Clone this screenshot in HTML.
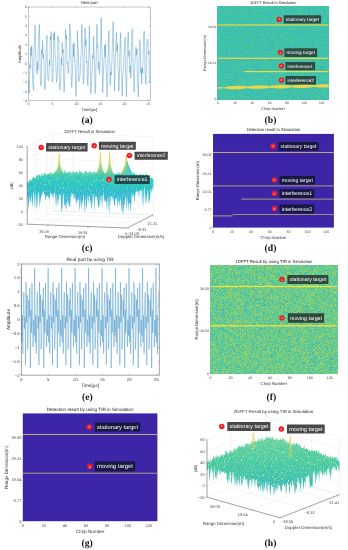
<!DOCTYPE html>
<html><head><meta charset="utf-8"><title>Figure</title>
<style>
html,body{margin:0;padding:0;background:#fff;}
svg{display:block}
text{text-rendering:geometricPrecision}
.s{font-family:'Liberation Sans', sans-serif;}
.b{font-family:'Liberation Serif', serif;font-weight:bold;}
</style></head><body>
<svg width="348" height="550" viewBox="0 0 348 550">
<defs>
<filter id="nb" x="0" y="0" width="1" height="1" color-interpolation-filters="sRGB">
<feTurbulence type="fractalNoise" baseFrequency="1.73 1.61" numOctaves="1" seed="3"/>
<feColorMatrix type="matrix" values="1.1 0 0 0 -0.05  1.1 0 0 0 -0.05  1.1 0 0 0 -0.05  0 0 0 0 1"/>
<feComponentTransfer><feFuncR type="table" tableValues="0.22 0.20 0.25 0.33 0.42"/><feFuncG type="table" tableValues="0.58 0.70 0.77 0.80 0.80"/><feFuncB type="table" tableValues="0.92 0.80 0.66 0.56 0.46"/></feComponentTransfer>
<feGaussianBlur stdDeviation="0.35"/>
</filter>
<filter id="nf" x="0" y="0" width="1" height="1" color-interpolation-filters="sRGB">
<feTurbulence type="fractalNoise" baseFrequency="1.73 1.61" numOctaves="1" seed="8"/>
<feColorMatrix type="matrix" values="1.25 0 0 0 -0.125  1.25 0 0 0 -0.125  1.25 0 0 0 -0.125  0 0 0 0 1"/>
<feComponentTransfer><feFuncR type="table" tableValues="0.22 0.20 0.40 0.70 0.88"/><feFuncG type="table" tableValues="0.55 0.72 0.81 0.82 0.80"/><feFuncB type="table" tableValues="0.92 0.76 0.54 0.36 0.28"/></feComponentTransfer>
<feGaussianBlur stdDeviation="0.4"/>
</filter>
<filter id="ns" x="0" y="0" width="1" height="1" color-interpolation-filters="sRGB">
<feTurbulence type="fractalNoise" baseFrequency="0.85 0.3" numOctaves="2" seed="5"/>
<feColorMatrix type="matrix" values="1.8 0 0 0 -0.4  1.8 0 0 0 -0.4  1.8 0 0 0 -0.4  0 2.0 0 0 -0.75"/>
<feComponentTransfer><feFuncR type="table" tableValues="0.20 0.12 0.25 0.50 0.75"/><feFuncG type="table" tableValues="0.64 0.74 0.84 0.90 0.95"/><feFuncB type="table" tableValues="0.92 0.86 0.78 0.70 0.70"/></feComponentTransfer>
<feGaussianBlur stdDeviation="0.3"/>
</filter>
<filter id="nh" x="0" y="0" width="1" height="1" color-interpolation-filters="sRGB">
<feTurbulence type="fractalNoise" baseFrequency="0.85 0.5" numOctaves="2" seed="9"/>
<feColorMatrix type="matrix" values="1.8 0 0 0 -0.4  1.8 0 0 0 -0.4  1.8 0 0 0 -0.4  0 2.4 0 0 -0.9"/>
<feComponentTransfer><feFuncR type="table" tableValues="0.20 0.18 0.35 0.68 0.90"/><feFuncG type="table" tableValues="0.66 0.76 0.84 0.90 0.96"/><feFuncB type="table" tableValues="0.88 0.80 0.66 0.52 0.70"/></feComponentTransfer>
<feGaussianBlur stdDeviation="0.3"/>
</filter>
<filter id="soft2" x="-0.5" y="-0.1" width="2" height="1.2"><feGaussianBlur stdDeviation="0.25"/></filter>
<filter id="soft" x="-0.05" y="-0.5" width="1.1" height="2"><feGaussianBlur stdDeviation="0.3"/></filter>
<linearGradient id="pk2" x1="0" y1="0" x2="0" y2="1"><stop offset="0" stop-color="#f2c844"/><stop offset="0.7" stop-color="#e6d250"/><stop offset="1" stop-color="#b8d870"/></linearGradient>
<linearGradient id="pk" x1="0" y1="0" x2="0" y2="1"><stop offset="0" stop-color="#f2d048"/><stop offset="0.3" stop-color="#dcdc58"/><stop offset="0.6" stop-color="#a6d878"/><stop offset="0.85" stop-color="#6ccf9c"/><stop offset="1" stop-color="#44c4b2"/></linearGradient>
</defs>
<rect width="348" height="550" fill="#fff"/>
<polyline fill="none" stroke="#3088c2" stroke-width="0.4" stroke-linejoin="round" points="28.4,79.64 28.88,90.01 29.35,93.18 29.83,64.36 30.3,68.39 30.78,47.36 31.26,55.78 31.73,45.69 32.21,59.67 32.69,81.98 33.16,87.39 33.64,90.12 34.11,47.8 34.59,40.54 35.07,25.17 35.54,51.26 36.02,61.25 36.49,67.2 36.97,73.87 37.45,62.32 37.92,70.15 38.4,38.33 38.88,36.29 39.35,24.34 39.83,53.62 40.3,79.4 40.78,85.62 41.26,82.81 41.73,49.85 42.21,54.85 42.69,40.37 43.16,57.9 43.64,54.78 44.11,70.4 44.59,89.31 45.07,89.34 45.54,88.41 46.02,46.47 46.49,43.83 46.97,35.43 47.45,67.5 47.92,79.06 48.4,80.78 48.88,79.42 49.35,60.47 49.83,65.48 50.3,36.23 50.78,39.51 51.26,31.65 51.73,60.93 52.21,82.08 52.68,80.7 53.16,70.43 53.64,33.51 54.11,40.03 54.59,31.61 55.07,55.93 55.54,55.99 56.02,69.29 56.49,82.22 56.97,76.74 57.45,74.28 57.92,35.92 58.4,40.55 58.88,40.15 59.35,77.65 59.83,89.78 60.3,87.36 60.78,80.1 61.26,57.85 61.73,64.98 62.21,42.41 62.68,53.11 63.16,49.19 63.64,76.98 64.11,92.22 64.59,83.41 65.07,67.45 65.54,29.02 66.02,38.62 66.49,35.65 66.97,63.79 67.45,62.59 67.92,69.24 68.4,73.36 68.87,61.51 69.35,58.01 69.83,23.63 70.3,34.5 70.78,39.19 71.26,78.11 71.73,87.28 72.21,79.08 72.68,66.81 73.16,44.03 73.64,56.49 74.11,42.84 74.59,61.46 75.06,60.7 75.54,86.26 76.02,96.33 76.49,83 76.97,65.98 77.45,30.87 77.92,46.97 78.4,50.6 78.87,81.67 79.35,77.58 79.83,76.67 80.3,72.66 80.78,56.47 81.26,54.14 81.73,24.57 82.21,40.14 82.68,46.19 83.16,81.83 83.64,84.06 84.11,68 84.59,50.52 85.06,27.86 85.54,45.64 86.02,39.23 86.49,62.44 86.97,60.92 87.45,81.33 87.92,85.55 88.4,69.48 88.87,54.64 89.35,26 89.83,50.29 90.3,60.47 90.78,93.59 91.25,86.33 91.73,79.4 92.21,70.9 92.68,55.21 93.16,58.48 93.64,36.36 94.11,56.92 94.59,62.9 95.06,93.61 95.54,88.39 96.02,65.68 96.49,45.21 96.97,24.42 97.44,47.43 97.92,45.76 98.4,69.27 98.87,62.37 99.35,74.22 99.83,71.19 100.3,52.64 100.78,40.64 101.25,18 101.73,48.2 102.21,61.24 102.68,92.73 103.16,80.23 103.64,67.68 104.11,57.23 104.59,45.48 105.06,57.16 105.54,43.63 106.02,68.79 106.49,73.88 106.97,96.9 107.44,89.6 107.92,64.47 108.4,45.9 108.87,30.85 109.35,60.77 109.83,63.29 110.3,85.35 110.78,71.64 111.25,74.94 111.73,66.21 112.21,47.32 112.68,39.33 113.16,21.71 113.63,54.46 114.11,65.67 114.59,91.15 115.06,70.71 115.54,51.88 116.02,40.07 116.49,32.66 116.97,51.7 117.44,43.97 117.92,69.98 118.4,70.99 118.87,91.16 119.35,77.09 119.83,52.73 120.3,39.58 120.78,32.6 121.25,69.97 121.73,75.99 122.21,96.09 122.68,76.58 123.16,74.42 123.63,64.59 124.11,50 124.59,49.17 125.06,37.35 125.54,71.42 126.02,78.85 126.49,96.9 126.97,69.38 127.44,46.15 127.92,34.85 128.4,32.13 128.87,56.55 129.35,50.6 129.82,72.66 130.3,65.69 130.78,78.01 131.25,60.11 131.73,37.29 132.21,29.62 132.68,29.08 133.16,70.64 133.63,76.5 134.11,92.17 134.59,66.73 135.06,61.34 135.54,53.95 136.01,46.96 136.49,55.09 136.97,49.15 137.44,83.76 137.92,87.29 138.4,96.9 138.87,68.84 139.35,46.02 139.82,39.44 140.3,43.63 140.78,73.29 141.25,67.39 141.73,83.67 142.21,68.05 142.68,73.51 143.16,53.72 143.63,33.87 144.11,31.21 144.59,34.21 145.06,75.39 145.54,76.38 146.01,84.36 146.49,51.82 146.97,43.62 147.44,39.35 147.92,39.51 148.4,54.4 148.87,50.89 149.35,82.73 149.82,80.71"/>
<rect x="28.4" y="7" width="121.9" height="93.6" fill="none" stroke="#707070" stroke-width="0.4"/>
<line x1="28.4" y1="100.6" x2="28.4" y2="99.4" stroke="#707070" stroke-width="0.35"/>
<line x1="28.4" y1="7" x2="28.4" y2="8.2" stroke="#707070" stroke-width="0.35"/>
<text x="28.4" y="105.3" font-size="3.63" text-anchor="middle" fill="#4c4c4c" class="s">0</text>
<line x1="52.4" y1="100.6" x2="52.4" y2="99.4" stroke="#707070" stroke-width="0.35"/>
<line x1="52.4" y1="7" x2="52.4" y2="8.2" stroke="#707070" stroke-width="0.35"/>
<text x="52.4" y="105.3" font-size="3.63" text-anchor="middle" fill="#4c4c4c" class="s">5</text>
<line x1="76.4" y1="100.6" x2="76.4" y2="99.4" stroke="#707070" stroke-width="0.35"/>
<line x1="76.4" y1="7" x2="76.4" y2="8.2" stroke="#707070" stroke-width="0.35"/>
<text x="76.4" y="105.3" font-size="3.63" text-anchor="middle" fill="#4c4c4c" class="s">10</text>
<line x1="100.4" y1="100.6" x2="100.4" y2="99.4" stroke="#707070" stroke-width="0.35"/>
<line x1="100.4" y1="7" x2="100.4" y2="8.2" stroke="#707070" stroke-width="0.35"/>
<text x="100.4" y="105.3" font-size="3.63" text-anchor="middle" fill="#4c4c4c" class="s">15</text>
<line x1="124.4" y1="100.6" x2="124.4" y2="99.4" stroke="#707070" stroke-width="0.35"/>
<line x1="124.4" y1="7" x2="124.4" y2="8.2" stroke="#707070" stroke-width="0.35"/>
<text x="124.4" y="105.3" font-size="3.63" text-anchor="middle" fill="#4c4c4c" class="s">20</text>
<line x1="148.4" y1="100.6" x2="148.4" y2="99.4" stroke="#707070" stroke-width="0.35"/>
<line x1="148.4" y1="7" x2="148.4" y2="8.2" stroke="#707070" stroke-width="0.35"/>
<text x="148.4" y="105.3" font-size="3.63" text-anchor="middle" fill="#4c4c4c" class="s">25</text>
<line x1="28.4" y1="100.64" x2="29.6" y2="100.64" stroke="#707070" stroke-width="0.35"/>
<line x1="150.3" y1="100.64" x2="149.1" y2="100.64" stroke="#707070" stroke-width="0.35"/>
<text x="27" y="101.95" font-size="3.63" text-anchor="end" fill="#4c4c4c" class="s">−4</text>
<line x1="28.4" y1="91.28" x2="29.6" y2="91.28" stroke="#707070" stroke-width="0.35"/>
<line x1="150.3" y1="91.28" x2="149.1" y2="91.28" stroke="#707070" stroke-width="0.35"/>
<text x="27" y="92.59" font-size="3.63" text-anchor="end" fill="#4c4c4c" class="s">−3</text>
<line x1="28.4" y1="81.92" x2="29.6" y2="81.92" stroke="#707070" stroke-width="0.35"/>
<line x1="150.3" y1="81.92" x2="149.1" y2="81.92" stroke="#707070" stroke-width="0.35"/>
<text x="27" y="83.23" font-size="3.63" text-anchor="end" fill="#4c4c4c" class="s">−2</text>
<line x1="28.4" y1="72.56" x2="29.6" y2="72.56" stroke="#707070" stroke-width="0.35"/>
<line x1="150.3" y1="72.56" x2="149.1" y2="72.56" stroke="#707070" stroke-width="0.35"/>
<text x="27" y="73.87" font-size="3.63" text-anchor="end" fill="#4c4c4c" class="s">−1</text>
<line x1="28.4" y1="63.2" x2="29.6" y2="63.2" stroke="#707070" stroke-width="0.35"/>
<line x1="150.3" y1="63.2" x2="149.1" y2="63.2" stroke="#707070" stroke-width="0.35"/>
<text x="27" y="64.51" font-size="3.63" text-anchor="end" fill="#4c4c4c" class="s">0</text>
<line x1="28.4" y1="53.84" x2="29.6" y2="53.84" stroke="#707070" stroke-width="0.35"/>
<line x1="150.3" y1="53.84" x2="149.1" y2="53.84" stroke="#707070" stroke-width="0.35"/>
<text x="27" y="55.15" font-size="3.63" text-anchor="end" fill="#4c4c4c" class="s">1</text>
<line x1="28.4" y1="44.48" x2="29.6" y2="44.48" stroke="#707070" stroke-width="0.35"/>
<line x1="150.3" y1="44.48" x2="149.1" y2="44.48" stroke="#707070" stroke-width="0.35"/>
<text x="27" y="45.79" font-size="3.63" text-anchor="end" fill="#4c4c4c" class="s">2</text>
<line x1="28.4" y1="35.12" x2="29.6" y2="35.12" stroke="#707070" stroke-width="0.35"/>
<line x1="150.3" y1="35.12" x2="149.1" y2="35.12" stroke="#707070" stroke-width="0.35"/>
<text x="27" y="36.43" font-size="3.63" text-anchor="end" fill="#4c4c4c" class="s">3</text>
<line x1="28.4" y1="25.76" x2="29.6" y2="25.76" stroke="#707070" stroke-width="0.35"/>
<line x1="150.3" y1="25.76" x2="149.1" y2="25.76" stroke="#707070" stroke-width="0.35"/>
<text x="27" y="27.07" font-size="3.63" text-anchor="end" fill="#4c4c4c" class="s">4</text>
<line x1="28.4" y1="16.4" x2="29.6" y2="16.4" stroke="#707070" stroke-width="0.35"/>
<line x1="150.3" y1="16.4" x2="149.1" y2="16.4" stroke="#707070" stroke-width="0.35"/>
<text x="27" y="17.71" font-size="3.63" text-anchor="end" fill="#4c4c4c" class="s">5</text>
<line x1="28.4" y1="7.04" x2="29.6" y2="7.04" stroke="#707070" stroke-width="0.35"/>
<line x1="150.3" y1="7.04" x2="149.1" y2="7.04" stroke="#707070" stroke-width="0.35"/>
<text x="27" y="8.35" font-size="3.63" text-anchor="end" fill="#4c4c4c" class="s">6</text>
<text x="89.35" y="4.4" font-size="4.18" text-anchor="middle" fill="#222" class="s">Real part</text>
<text x="89.35" y="110.5" font-size="4.18" text-anchor="middle" fill="#333" class="s">Time[μs]</text>
<text x="20.8" y="53.8" font-size="4.18" text-anchor="middle" fill="#333" class="s" transform="rotate(-90 20.8 53.8)">Amplitude</text>
<text x="87.2" y="123.1" font-size="9.7" text-anchor="middle" fill="#111" class="b">(a)</text>
<polyline fill="none" stroke="#3088c2" stroke-width="0.4" stroke-linejoin="round" points="21.2,268.12 21.74,342.36 22.28,315.24 22.82,353.63 23.36,304.29 23.9,292.32 24.43,328.61 24.97,316.6 25.51,364.84 26.05,282.08 26.59,322.41 27.13,294.87 27.67,349.26 28.21,337.85 28.75,299.61 29.29,316.8 29.82,287.76 30.36,368.08 30.9,309.97 31.44,332.65 31.98,283.25 32.52,317.11 33.06,347.05 33.6,319.72 34.14,335.54 34.68,268.12 35.22,342.36 35.75,315.24 36.29,353.63 36.83,304.29 37.37,292.32 37.91,328.61 38.45,316.6 38.99,364.84 39.53,282.08 40.07,322.41 40.61,294.87 41.15,349.26 41.68,337.85 42.22,299.61 42.76,316.8 43.3,287.76 43.84,368.08 44.38,309.97 44.92,332.65 45.46,283.25 46,317.11 46.54,347.05 47.08,319.72 47.61,335.54 48.15,268.12 48.69,342.36 49.23,315.24 49.77,353.63 50.31,304.29 50.85,292.32 51.39,328.61 51.93,316.6 52.47,364.84 53,282.08 53.54,322.41 54.08,294.87 54.62,349.26 55.16,337.85 55.7,299.61 56.24,316.8 56.78,287.76 57.32,368.08 57.86,309.97 58.4,332.65 58.93,283.25 59.47,317.11 60.01,347.05 60.55,319.72 61.09,335.54 61.63,268.12 62.17,342.36 62.71,315.24 63.25,353.63 63.79,304.29 64.33,292.32 64.86,328.61 65.4,316.6 65.94,364.84 66.48,282.08 67.02,322.41 67.56,294.87 68.1,349.26 68.64,337.85 69.18,299.61 69.72,316.8 70.25,287.76 70.79,368.08 71.33,309.97 71.87,332.65 72.41,283.25 72.95,317.11 73.49,347.05 74.03,319.72 74.57,335.54 75.11,268.12 75.65,342.36 76.18,315.24 76.72,353.63 77.26,304.29 77.8,292.32 78.34,328.61 78.88,316.6 79.42,364.84 79.96,282.08 80.5,322.41 81.04,294.87 81.58,349.26 82.11,337.85 82.65,299.61 83.19,316.8 83.73,287.76 84.27,368.08 84.81,309.97 85.35,332.65 85.89,283.25 86.43,317.11 86.97,347.05 87.5,319.72 88.04,335.54 88.58,268.12 89.12,342.36 89.66,315.24 90.2,353.63 90.74,304.29 91.28,292.32 91.82,328.61 92.36,316.6 92.9,364.84 93.43,282.08 93.97,322.41 94.51,294.87 95.05,349.26 95.59,337.85 96.13,299.61 96.67,316.8 97.21,287.76 97.75,368.08 98.29,309.97 98.83,332.65 99.36,283.25 99.9,317.11 100.44,347.05 100.98,319.72 101.52,335.54 102.06,268.12 102.6,342.36 103.14,315.24 103.68,353.63 104.22,304.29 104.75,292.32 105.29,328.61 105.83,316.6 106.37,364.84 106.91,282.08 107.45,322.41 107.99,294.87 108.53,349.26 109.07,337.85 109.61,299.61 110.15,316.8 110.68,287.76 111.22,368.08 111.76,309.97 112.3,332.65 112.84,283.25 113.38,317.11 113.92,347.05 114.46,319.72 115,335.54 115.54,268.12 116.08,342.36 116.61,315.24 117.15,353.63 117.69,304.29 118.23,292.32 118.77,328.61 119.31,316.6 119.85,364.84 120.39,282.08 120.93,322.41 121.47,294.87 122,349.26 122.54,337.85 123.08,299.61 123.62,316.8 124.16,287.76 124.7,368.08 125.24,309.97 125.78,332.65 126.32,283.25 126.86,317.11 127.4,347.05 127.93,319.72 128.47,335.54 129.01,268.12 129.55,342.36 130.09,315.24 130.63,353.63 131.17,304.29 131.71,292.32 132.25,328.61 132.79,316.6 133.32,364.84 133.86,282.08 134.4,322.41 134.94,294.87 135.48,349.26 136.02,337.85 136.56,299.61 137.1,316.8 137.64,287.76 138.18,368.08 138.72,309.97 139.25,332.65 139.79,283.25 140.33,317.11 140.87,347.05 141.41,319.72 141.95,335.54 142.49,268.12 143.03,342.36 143.57,315.24 144.11,353.63 144.65,304.29 145.18,292.32 145.72,328.61 146.26,316.6 146.8,364.84 147.34,282.08 147.88,322.41 148.42,294.87 148.96,349.26 149.5,337.85 150.04,299.61 150.57,316.8 151.11,287.76 151.65,368.08 152.19,309.97 152.73,332.65 153.27,283.25 153.81,317.11 154.35,347.05 154.89,319.72 155.43,335.54 155.97,268.12 156.5,342.36 157.04,315.24 157.58,353.63 158.12,304.29 158.66,292.32"/>
<rect x="21.2" y="264" width="138" height="111.1" fill="none" stroke="#505050" stroke-width="0.5"/>
<line x1="21.2" y1="375.1" x2="21.2" y2="373.9" stroke="#505050" stroke-width="0.35"/>
<line x1="21.2" y1="264" x2="21.2" y2="265.2" stroke="#505050" stroke-width="0.35"/>
<text x="21.2" y="381" font-size="4.39" text-anchor="middle" fill="#4c4c4c" class="s">0</text>
<line x1="48.2" y1="375.1" x2="48.2" y2="373.9" stroke="#505050" stroke-width="0.35"/>
<line x1="48.2" y1="264" x2="48.2" y2="265.2" stroke="#505050" stroke-width="0.35"/>
<text x="48.2" y="381" font-size="4.39" text-anchor="middle" fill="#4c4c4c" class="s">5</text>
<line x1="75.2" y1="375.1" x2="75.2" y2="373.9" stroke="#505050" stroke-width="0.35"/>
<line x1="75.2" y1="264" x2="75.2" y2="265.2" stroke="#505050" stroke-width="0.35"/>
<text x="75.2" y="381" font-size="4.39" text-anchor="middle" fill="#4c4c4c" class="s">10</text>
<line x1="102.2" y1="375.1" x2="102.2" y2="373.9" stroke="#505050" stroke-width="0.35"/>
<line x1="102.2" y1="264" x2="102.2" y2="265.2" stroke="#505050" stroke-width="0.35"/>
<text x="102.2" y="381" font-size="4.39" text-anchor="middle" fill="#4c4c4c" class="s">15</text>
<line x1="129.2" y1="375.1" x2="129.2" y2="373.9" stroke="#505050" stroke-width="0.35"/>
<line x1="129.2" y1="264" x2="129.2" y2="265.2" stroke="#505050" stroke-width="0.35"/>
<text x="129.2" y="381" font-size="4.39" text-anchor="middle" fill="#4c4c4c" class="s">20</text>
<line x1="156.2" y1="375.1" x2="156.2" y2="373.9" stroke="#505050" stroke-width="0.35"/>
<line x1="156.2" y1="264" x2="156.2" y2="265.2" stroke="#505050" stroke-width="0.35"/>
<text x="156.2" y="381" font-size="4.39" text-anchor="middle" fill="#4c4c4c" class="s">25</text>
<line x1="21.2" y1="375.2" x2="22.4" y2="375.2" stroke="#505050" stroke-width="0.35"/>
<line x1="159.2" y1="375.2" x2="158" y2="375.2" stroke="#505050" stroke-width="0.35"/>
<text x="19.8" y="376.78" font-size="4.39" text-anchor="end" fill="#4c4c4c" class="s">−2</text>
<line x1="21.2" y1="361.3" x2="22.4" y2="361.3" stroke="#505050" stroke-width="0.35"/>
<line x1="159.2" y1="361.3" x2="158" y2="361.3" stroke="#505050" stroke-width="0.35"/>
<text x="19.8" y="362.88" font-size="4.39" text-anchor="end" fill="#4c4c4c" class="s">−1.5</text>
<line x1="21.2" y1="347.4" x2="22.4" y2="347.4" stroke="#505050" stroke-width="0.35"/>
<line x1="159.2" y1="347.4" x2="158" y2="347.4" stroke="#505050" stroke-width="0.35"/>
<text x="19.8" y="348.98" font-size="4.39" text-anchor="end" fill="#4c4c4c" class="s">−1</text>
<line x1="21.2" y1="333.5" x2="22.4" y2="333.5" stroke="#505050" stroke-width="0.35"/>
<line x1="159.2" y1="333.5" x2="158" y2="333.5" stroke="#505050" stroke-width="0.35"/>
<text x="19.8" y="335.08" font-size="4.39" text-anchor="end" fill="#4c4c4c" class="s">−0.5</text>
<line x1="21.2" y1="319.6" x2="22.4" y2="319.6" stroke="#505050" stroke-width="0.35"/>
<line x1="159.2" y1="319.6" x2="158" y2="319.6" stroke="#505050" stroke-width="0.35"/>
<text x="19.8" y="321.18" font-size="4.39" text-anchor="end" fill="#4c4c4c" class="s">0</text>
<line x1="21.2" y1="305.7" x2="22.4" y2="305.7" stroke="#505050" stroke-width="0.35"/>
<line x1="159.2" y1="305.7" x2="158" y2="305.7" stroke="#505050" stroke-width="0.35"/>
<text x="19.8" y="307.28" font-size="4.39" text-anchor="end" fill="#4c4c4c" class="s">0.5</text>
<line x1="21.2" y1="291.8" x2="22.4" y2="291.8" stroke="#505050" stroke-width="0.35"/>
<line x1="159.2" y1="291.8" x2="158" y2="291.8" stroke="#505050" stroke-width="0.35"/>
<text x="19.8" y="293.38" font-size="4.39" text-anchor="end" fill="#4c4c4c" class="s">1</text>
<line x1="21.2" y1="277.9" x2="22.4" y2="277.9" stroke="#505050" stroke-width="0.35"/>
<line x1="159.2" y1="277.9" x2="158" y2="277.9" stroke="#505050" stroke-width="0.35"/>
<text x="19.8" y="279.48" font-size="4.39" text-anchor="end" fill="#4c4c4c" class="s">1.5</text>
<line x1="21.2" y1="264" x2="22.4" y2="264" stroke="#505050" stroke-width="0.35"/>
<line x1="159.2" y1="264" x2="158" y2="264" stroke="#505050" stroke-width="0.35"/>
<text x="19.8" y="265.58" font-size="4.39" text-anchor="end" fill="#4c4c4c" class="s">2</text>
<text x="90.2" y="261" font-size="4.75" text-anchor="middle" fill="#222" class="s">Real part by using TIR</text>
<text x="90.2" y="387.3" font-size="4.75" text-anchor="middle" fill="#333" class="s">Time[μs]</text>
<text x="9.6" y="319.55" font-size="4.75" text-anchor="middle" fill="#333" class="s" transform="rotate(-90 9.6 319.55)">Amplitude</text>
<text x="87.4" y="400.3" font-size="9.7" text-anchor="middle" fill="#111" class="b">(e)</text>
<rect x="217.7" y="6.4" width="110.9" height="93.1" fill="#40c4a8" filter="url(#nb)"/>
<rect x="217.7" y="24.4" width="110.9" height="1.2" fill="#f0d840" filter="url(#soft)"/>
<rect x="217.7" y="57.7" width="110.9" height="1.2" fill="#f0d840" filter="url(#soft)"/>
<rect x="244.5" y="71" width="84.1" height="1.2" fill="#f0d840" filter="url(#soft)"/>
<polygon fill="#ecd648" filter="url(#soft)" points="217.7,87.06 218.62,87.08 219.55,87.1 220.47,87.13 221.4,87.17 222.32,87.21 223.25,87.25 224.17,87.3 225.09,87.35 226.02,86.82 226.94,86.6 227.87,86.45 228.79,86.33 229.71,86.22 230.64,86.14 231.56,86.06 232.49,86 233.41,85.95 234.33,85.91 235.26,85.87 236.18,85.85 237.11,85.84 238.03,85.83 238.96,85.83 239.88,85.84 240.8,85.87 241.73,85.9 242.65,85.94 243.58,86 244.5,86.08 245.43,86.18 246.35,86.33 247.27,86.61 248.2,86.41 249.12,86.19 250.05,86.03 250.97,85.91 251.89,85.81 252.82,85.72 253.74,85.64 254.67,85.58 255.59,85.53 256.51,85.49 257.44,85.45 258.36,85.43 259.29,85.41 260.21,85.41 261.14,85.41 262.06,85.42 262.98,85.45 263.91,85.48 264.83,85.52 265.76,85.58 266.68,85.66 267.61,85.76 268.53,85.91 269.45,86.18 270.38,85.99 271.3,85.77 272.23,85.61 273.15,85.49 274.07,85.39 275,85.3 275.92,85.23 276.85,85.16 277.77,85.11 278.69,85.07 279.62,85.03 280.54,85.01 281.47,84.99 282.39,84.99 283.32,84.99 284.24,85 285.16,85.02 286.09,85.06 287.01,85.1 287.94,85.16 288.86,85.24 289.79,85.34 290.71,85.48 291.63,85.75 292.56,85.58 293.48,85.35 294.41,85.2 295.33,85.07 296.25,84.97 297.18,84.88 298.1,84.81 299.03,84.74 299.95,84.69 300.88,84.65 301.8,84.62 302.72,84.59 303.65,84.57 304.57,84.57 305.5,84.57 306.42,84.58 307.34,84.6 308.27,84.64 309.19,84.68 310.12,84.74 311.04,84.81 311.97,84.91 312.89,85.06 313.81,85.32 314.74,85.17 315.66,84.94 316.59,84.78 317.51,84.65 318.43,84.55 319.36,84.46 320.28,84.39 321.21,84.32 322.13,84.27 323.06,84.23 323.98,84.2 324.9,84.17 325.83,84.15 326.75,84.15 327.68,84.15 328.6,84.16 328.6,87.44 327.68,87.49 326.75,87.52 325.83,87.55 324.9,87.57 323.98,87.58 323.06,87.58 322.13,87.57 321.21,87.56 320.28,87.53 319.36,87.49 318.43,87.43 317.51,87.37 316.59,87.28 315.66,87.15 314.74,86.96 313.81,86.84 312.89,87.14 311.97,87.32 311.04,87.45 310.12,87.56 309.19,87.65 308.27,87.73 307.34,87.8 306.42,87.86 305.5,87.9 304.57,87.94 303.65,87.97 302.72,87.99 301.8,88 300.88,88 299.95,87.99 299.03,87.98 298.1,87.95 297.18,87.91 296.25,87.86 295.33,87.79 294.41,87.7 293.48,87.58 292.56,87.39 291.63,87.25 290.71,87.55 289.79,87.73 288.86,87.87 287.94,87.98 287.01,88.07 286.09,88.15 285.16,88.22 284.24,88.28 283.32,88.32 282.39,88.36 281.47,88.39 280.54,88.41 279.62,88.42 278.69,88.42 277.77,88.41 276.85,88.4 275.92,88.37 275,88.33 274.07,88.28 273.15,88.21 272.23,88.12 271.3,88 270.38,87.81 269.45,87.66 268.53,87.97 267.61,88.15 266.68,88.29 265.76,88.4 264.83,88.49 263.91,88.57 262.98,88.64 262.06,88.7 261.14,88.74 260.21,88.78 259.29,88.81 258.36,88.83 257.44,88.84 256.51,88.84 255.59,88.83 254.67,88.82 253.74,88.79 252.82,88.75 251.89,88.7 250.97,88.63 250.05,88.54 249.12,88.42 248.2,88.24 247.27,88.07 246.35,88.39 245.43,88.57 244.5,88.7 243.58,88.82 242.65,88.91 241.73,88.99 240.8,89.06 239.88,89.12 238.96,89.16 238.03,89.2 237.11,89.23 236.18,89.25 235.26,89.26 234.33,89.26 233.41,89.26 232.49,89.24 231.56,89.21 230.64,89.17 229.71,89.12 228.79,89.05 227.87,88.97 226.94,88.85 226.02,88.66 225.09,88.17 224.17,88.26 223.25,88.34 222.32,88.42 221.4,88.49 220.47,88.56 219.55,88.63 218.62,88.69 217.7,88.74"/>
<line x1="217.7" y1="99.5" x2="217.7" y2="98.3" stroke="#707070" stroke-width="0.35"/>
<text x="217.7" y="104.4" font-size="3.3" text-anchor="middle" fill="#4c4c4c" class="s">0</text>
<line x1="235.03" y1="99.5" x2="235.03" y2="98.3" stroke="#707070" stroke-width="0.35"/>
<text x="235.03" y="104.4" font-size="3.3" text-anchor="middle" fill="#4c4c4c" class="s">20</text>
<line x1="252.36" y1="99.5" x2="252.36" y2="98.3" stroke="#707070" stroke-width="0.35"/>
<text x="252.36" y="104.4" font-size="3.3" text-anchor="middle" fill="#4c4c4c" class="s">40</text>
<line x1="269.68" y1="99.5" x2="269.68" y2="98.3" stroke="#707070" stroke-width="0.35"/>
<text x="269.68" y="104.4" font-size="3.3" text-anchor="middle" fill="#4c4c4c" class="s">60</text>
<line x1="287.01" y1="99.5" x2="287.01" y2="98.3" stroke="#707070" stroke-width="0.35"/>
<text x="287.01" y="104.4" font-size="3.3" text-anchor="middle" fill="#4c4c4c" class="s">80</text>
<line x1="304.34" y1="99.5" x2="304.34" y2="98.3" stroke="#707070" stroke-width="0.35"/>
<text x="304.34" y="104.4" font-size="3.3" text-anchor="middle" fill="#4c4c4c" class="s">100</text>
<line x1="321.67" y1="99.5" x2="321.67" y2="98.3" stroke="#707070" stroke-width="0.35"/>
<text x="321.67" y="104.4" font-size="3.3" text-anchor="middle" fill="#4c4c4c" class="s">120</text>
<line x1="217.7" y1="26.6" x2="218.9" y2="26.6" stroke="#707070" stroke-width="0.35"/>
<text x="216.3" y="27.79" font-size="3.3" text-anchor="end" fill="#4c4c4c" class="s">39.09</text>
<line x1="217.7" y1="62.8" x2="218.9" y2="62.8" stroke="#707070" stroke-width="0.35"/>
<text x="216.3" y="63.99" font-size="3.3" text-anchor="end" fill="#4c4c4c" class="s">19.54</text>
<line x1="217.7" y1="99.3" x2="218.9" y2="99.3" stroke="#707070" stroke-width="0.35"/>
<text x="216.3" y="100.49" font-size="3.3" text-anchor="end" fill="#4c4c4c" class="s">0</text>
<text x="273.15" y="4" font-size="3.8" text-anchor="middle" fill="#222" class="s">1DFFT Result in Simulation</text>
<text x="273.15" y="109.7" font-size="3.8" text-anchor="middle" fill="#333" class="s">Chirp Number</text>
<text x="205.8" y="52.95" font-size="3.8" text-anchor="middle" fill="#333" class="s" transform="rotate(-90 205.8 52.95)">Range Dimension(m)</text>
<text x="270.5" y="123.1" font-size="9.7" text-anchor="middle" fill="#111" class="b">(b)</text>
<circle cx="279.2" cy="19.4" r="2.75" fill="#ec1f27"/>
<text x="279.2" y="20.4" font-size="2.9" text-anchor="middle" fill="#fff" class="s">1</text>
<rect x="283.7" y="15.2" width="37.4" height="8.3" fill="#2b4d46" rx="0.5"/>
<text x="302.4" y="20.87" font-size="4.62" text-anchor="middle" fill="#fff" class="s">stationary target</text>
<circle cx="280.3" cy="52.6" r="2.75" fill="#ec1f27"/>
<text x="280.3" y="53.6" font-size="2.9" text-anchor="middle" fill="#fff" class="s">2</text>
<rect x="284.4" y="48.3" width="32.8" height="8.6" fill="#2b4d46" rx="0.5"/>
<text x="300.8" y="54.15" font-size="4.7" text-anchor="middle" fill="#fff" class="s">moving target</text>
<circle cx="281.4" cy="66.1" r="2.75" fill="#ec1f27"/>
<text x="281.4" y="67.1" font-size="2.9" text-anchor="middle" fill="#fff" class="s">3</text>
<rect x="285.4" y="62.1" width="29.7" height="8.1" fill="#2b4d46" rx="0.5"/>
<text x="300.25" y="67.59" font-size="4.35" text-anchor="middle" fill="#fff" class="s">interference1</text>
<circle cx="281.4" cy="80.2" r="2.75" fill="#ec1f27"/>
<text x="281.4" y="81.2" font-size="2.9" text-anchor="middle" fill="#fff" class="s">4</text>
<rect x="285.4" y="75.9" width="30.6" height="8.6" fill="#2b4d46" rx="0.5"/>
<text x="300.7" y="81.69" font-size="4.51" text-anchor="middle" fill="#fff" class="s">interference2</text>
<rect x="210.6" y="265.4" width="126.6" height="107.9" fill="#6cc08a" filter="url(#nf)"/>
<rect x="210.6" y="285.85" width="126.6" height="1.3" fill="#f0e040"/>
<rect x="210.6" y="325.1" width="126.6" height="1.3" fill="#f0e040"/>
<line x1="210.6" y1="373.3" x2="210.6" y2="372.1" stroke="#707070" stroke-width="0.35"/>
<text x="210.6" y="378.9" font-size="3.72" text-anchor="middle" fill="#4c4c4c" class="s">0</text>
<line x1="230.45" y1="373.3" x2="230.45" y2="372.1" stroke="#707070" stroke-width="0.35"/>
<text x="230.45" y="378.9" font-size="3.72" text-anchor="middle" fill="#4c4c4c" class="s">20</text>
<line x1="250.3" y1="373.3" x2="250.3" y2="372.1" stroke="#707070" stroke-width="0.35"/>
<text x="250.3" y="378.9" font-size="3.72" text-anchor="middle" fill="#4c4c4c" class="s">40</text>
<line x1="270.15" y1="373.3" x2="270.15" y2="372.1" stroke="#707070" stroke-width="0.35"/>
<text x="270.15" y="378.9" font-size="3.72" text-anchor="middle" fill="#4c4c4c" class="s">60</text>
<line x1="290" y1="373.3" x2="290" y2="372.1" stroke="#707070" stroke-width="0.35"/>
<text x="290" y="378.9" font-size="3.72" text-anchor="middle" fill="#4c4c4c" class="s">80</text>
<line x1="309.85" y1="373.3" x2="309.85" y2="372.1" stroke="#707070" stroke-width="0.35"/>
<text x="309.85" y="378.9" font-size="3.72" text-anchor="middle" fill="#4c4c4c" class="s">100</text>
<line x1="329.7" y1="373.3" x2="329.7" y2="372.1" stroke="#707070" stroke-width="0.35"/>
<text x="329.7" y="378.9" font-size="3.72" text-anchor="middle" fill="#4c4c4c" class="s">120</text>
<line x1="210.6" y1="289" x2="211.8" y2="289" stroke="#707070" stroke-width="0.35"/>
<text x="209.2" y="290.34" font-size="3.72" text-anchor="end" fill="#4c4c4c" class="s">39.09</text>
<line x1="210.6" y1="331" x2="211.8" y2="331" stroke="#707070" stroke-width="0.35"/>
<text x="209.2" y="332.34" font-size="3.72" text-anchor="end" fill="#4c4c4c" class="s">19.54</text>
<line x1="210.6" y1="373.2" x2="211.8" y2="373.2" stroke="#707070" stroke-width="0.35"/>
<text x="209.2" y="374.54" font-size="3.72" text-anchor="end" fill="#4c4c4c" class="s">0</text>
<text x="273.9" y="262.8" font-size="4.28" text-anchor="middle" fill="#222" class="s">1DFFT Result by using TIR in Simulation</text>
<text x="273.9" y="384.8" font-size="4.28" text-anchor="middle" fill="#333" class="s">Chirp Number</text>
<text x="197.6" y="319.35" font-size="4.28" text-anchor="middle" fill="#333" class="s" transform="rotate(-90 197.6 319.35)">Range Dimension(m)</text>
<text x="271.3" y="400.3" font-size="9.7" text-anchor="middle" fill="#111" class="b">(f)</text>
<circle cx="281.9" cy="279.5" r="2.75" fill="#ec1f27"/>
<text x="281.9" y="280.5" font-size="2.9" text-anchor="middle" fill="#fff" class="s">1</text>
<rect x="287.4" y="274.9" width="41" height="9" fill="#2e4a3a" rx="0.5"/>
<text x="307.9" y="281.09" font-size="5.12" text-anchor="middle" fill="#fff" class="s">stationary target</text>
<circle cx="281.9" cy="318.1" r="2.75" fill="#ec1f27"/>
<text x="281.9" y="319.1" font-size="2.9" text-anchor="middle" fill="#fff" class="s">2</text>
<rect x="287.9" y="313.3" width="36.2" height="9.4" fill="#2e4a3a" rx="0.5"/>
<text x="306" y="319.74" font-size="5.27" text-anchor="middle" fill="#fff" class="s">moving target</text>
<circle cx="282.6" cy="304" r="0.6" fill="#7a2a4a"/>
<rect x="213" y="133.9" width="120.9" height="93.7" fill="#3c25a6"/>
<rect x="213" y="151.95" width="120.9" height="1" fill="#c8ae74"/>
<rect x="213" y="185.4" width="120.9" height="1" fill="#b09c78"/>
<rect x="241.3" y="198.6" width="92.6" height="1" fill="#b09c78"/>
<rect x="213" y="215.4" width="19.8" height="1" fill="#b09c78"/>
<rect x="232.8" y="213.95" width="101.1" height="0.9" fill="#b09c78"/>
<line x1="213" y1="227.6" x2="213" y2="226.4" stroke="#707070" stroke-width="0.35"/>
<text x="213" y="232.7" font-size="3.61" text-anchor="middle" fill="#4c4c4c" class="s">0</text>
<line x1="231.89" y1="227.6" x2="231.89" y2="226.4" stroke="#707070" stroke-width="0.35"/>
<text x="231.89" y="232.7" font-size="3.61" text-anchor="middle" fill="#4c4c4c" class="s">20</text>
<line x1="250.78" y1="227.6" x2="250.78" y2="226.4" stroke="#707070" stroke-width="0.35"/>
<text x="250.78" y="232.7" font-size="3.61" text-anchor="middle" fill="#4c4c4c" class="s">40</text>
<line x1="269.67" y1="227.6" x2="269.67" y2="226.4" stroke="#707070" stroke-width="0.35"/>
<text x="269.67" y="232.7" font-size="3.61" text-anchor="middle" fill="#4c4c4c" class="s">60</text>
<line x1="288.56" y1="227.6" x2="288.56" y2="226.4" stroke="#707070" stroke-width="0.35"/>
<text x="288.56" y="232.7" font-size="3.61" text-anchor="middle" fill="#4c4c4c" class="s">80</text>
<line x1="307.45" y1="227.6" x2="307.45" y2="226.4" stroke="#707070" stroke-width="0.35"/>
<text x="307.45" y="232.7" font-size="3.61" text-anchor="middle" fill="#4c4c4c" class="s">100</text>
<line x1="326.34" y1="227.6" x2="326.34" y2="226.4" stroke="#707070" stroke-width="0.35"/>
<text x="326.34" y="232.7" font-size="3.61" text-anchor="middle" fill="#4c4c4c" class="s">120</text>
<line x1="213" y1="155" x2="214.2" y2="155" stroke="#707070" stroke-width="0.35"/>
<text x="211.6" y="156.3" font-size="3.61" text-anchor="end" fill="#4c4c4c" class="s">39.09</text>
<line x1="213" y1="173.2" x2="214.2" y2="173.2" stroke="#707070" stroke-width="0.35"/>
<text x="211.6" y="174.5" font-size="3.61" text-anchor="end" fill="#4c4c4c" class="s">29.31</text>
<line x1="213" y1="191.5" x2="214.2" y2="191.5" stroke="#707070" stroke-width="0.35"/>
<text x="211.6" y="192.8" font-size="3.61" text-anchor="end" fill="#4c4c4c" class="s">19.54</text>
<line x1="213" y1="209.6" x2="214.2" y2="209.6" stroke="#707070" stroke-width="0.35"/>
<text x="211.6" y="210.9" font-size="3.61" text-anchor="end" fill="#4c4c4c" class="s">9.77</text>
<line x1="213" y1="227.8" x2="214.2" y2="227.8" stroke="#707070" stroke-width="0.35"/>
<text x="211.6" y="229.1" font-size="3.61" text-anchor="end" fill="#4c4c4c" class="s">0</text>
<text x="273.45" y="131.3" font-size="4.15" text-anchor="middle" fill="#222" class="s">Detection result in Simulation</text>
<text x="273.45" y="238.5" font-size="4.15" text-anchor="middle" fill="#333" class="s">Chirp Number</text>
<text x="198.8" y="180.75" font-size="4.15" text-anchor="middle" fill="#333" class="s" transform="rotate(-90 198.8 180.75)">Range Dimension(m)</text>
<text x="270.5" y="251.2" font-size="9.7" text-anchor="middle" fill="#111" class="b">(d)</text>
<circle cx="273" cy="146.3" r="2.75" fill="#ec1f27"/>
<text x="273" y="147.3" font-size="2.9" text-anchor="middle" fill="#fff" class="s">1</text>
<rect x="278.4" y="142" width="40.2" height="8.7" fill="#17173f" rx="0.5"/>
<text x="298.5" y="148" font-size="5.01" text-anchor="middle" fill="#fff" class="s">stationary target</text>
<circle cx="274.4" cy="180.1" r="2.75" fill="#ec1f27"/>
<text x="274.4" y="181.1" font-size="2.9" text-anchor="middle" fill="#fff" class="s">2</text>
<rect x="279.5" y="175.9" width="35.5" height="8.5" fill="#17173f" rx="0.5"/>
<text x="297.25" y="181.85" font-size="5.15" text-anchor="middle" fill="#fff" class="s">moving target</text>
<circle cx="274.4" cy="193.5" r="2.75" fill="#ec1f27"/>
<text x="274.4" y="194.5" font-size="2.9" text-anchor="middle" fill="#fff" class="s">3</text>
<rect x="279.5" y="189.3" width="34.8" height="8.6" fill="#17173f" rx="0.5"/>
<text x="296.9" y="195.32" font-size="5.23" text-anchor="middle" fill="#fff" class="s">interference1</text>
<circle cx="274.4" cy="208.6" r="2.75" fill="#ec1f27"/>
<text x="274.4" y="209.6" font-size="2.9" text-anchor="middle" fill="#fff" class="s">4</text>
<rect x="279.5" y="204.4" width="34.8" height="9" fill="#17173f" rx="0.5"/>
<text x="296.9" y="210.62" font-size="5.23" text-anchor="middle" fill="#fff" class="s">interference2</text>
<rect x="22.8" y="413.4" width="134.6" height="107.8" fill="#3c25a6"/>
<rect x="22.8" y="433.95" width="134.6" height="1" fill="#c8ae74"/>
<rect x="22.8" y="472.7" width="134.6" height="1" fill="#b09c78"/>
<line x1="22.8" y1="521.2" x2="22.8" y2="520" stroke="#707070" stroke-width="0.35"/>
<text x="22.8" y="526.9" font-size="4.01" text-anchor="middle" fill="#4c4c4c" class="s">0</text>
<line x1="43.83" y1="521.2" x2="43.83" y2="520" stroke="#707070" stroke-width="0.35"/>
<text x="43.83" y="526.9" font-size="4.01" text-anchor="middle" fill="#4c4c4c" class="s">20</text>
<line x1="64.86" y1="521.2" x2="64.86" y2="520" stroke="#707070" stroke-width="0.35"/>
<text x="64.86" y="526.9" font-size="4.01" text-anchor="middle" fill="#4c4c4c" class="s">40</text>
<line x1="85.89" y1="521.2" x2="85.89" y2="520" stroke="#707070" stroke-width="0.35"/>
<text x="85.89" y="526.9" font-size="4.01" text-anchor="middle" fill="#4c4c4c" class="s">60</text>
<line x1="106.92" y1="521.2" x2="106.92" y2="520" stroke="#707070" stroke-width="0.35"/>
<text x="106.92" y="526.9" font-size="4.01" text-anchor="middle" fill="#4c4c4c" class="s">80</text>
<line x1="127.96" y1="521.2" x2="127.96" y2="520" stroke="#707070" stroke-width="0.35"/>
<text x="127.96" y="526.9" font-size="4.01" text-anchor="middle" fill="#4c4c4c" class="s">100</text>
<line x1="148.99" y1="521.2" x2="148.99" y2="520" stroke="#707070" stroke-width="0.35"/>
<text x="148.99" y="526.9" font-size="4.01" text-anchor="middle" fill="#4c4c4c" class="s">120</text>
<line x1="22.8" y1="437.5" x2="24" y2="437.5" stroke="#707070" stroke-width="0.35"/>
<text x="21.4" y="438.94" font-size="4.01" text-anchor="end" fill="#4c4c4c" class="s">39.09</text>
<line x1="22.8" y1="458.7" x2="24" y2="458.7" stroke="#707070" stroke-width="0.35"/>
<text x="21.4" y="460.14" font-size="4.01" text-anchor="end" fill="#4c4c4c" class="s">29.31</text>
<line x1="22.8" y1="479.8" x2="24" y2="479.8" stroke="#707070" stroke-width="0.35"/>
<text x="21.4" y="481.24" font-size="4.01" text-anchor="end" fill="#4c4c4c" class="s">19.54</text>
<line x1="22.8" y1="500.5" x2="24" y2="500.5" stroke="#707070" stroke-width="0.35"/>
<text x="21.4" y="501.94" font-size="4.01" text-anchor="end" fill="#4c4c4c" class="s">9.77</text>
<line x1="22.8" y1="521.2" x2="24" y2="521.2" stroke="#707070" stroke-width="0.35"/>
<text x="21.4" y="522.64" font-size="4.01" text-anchor="end" fill="#4c4c4c" class="s">0</text>
<text x="90.1" y="410.8" font-size="4.62" text-anchor="middle" fill="#222" class="s">Detection result by using TIR in Simulation</text>
<text x="90.1" y="533.4" font-size="4.62" text-anchor="middle" fill="#333" class="s">Chirp Number</text>
<text x="8.3" y="467.3" font-size="4.62" text-anchor="middle" fill="#333" class="s" transform="rotate(-90 8.3 467.3)">Range Dimension(m)</text>
<text x="87.2" y="546.3" font-size="9.7" text-anchor="middle" fill="#111" class="b">(g)</text>
<circle cx="89.2" cy="427" r="2.75" fill="#ec1f27"/>
<text x="89.2" y="428" font-size="2.9" text-anchor="middle" fill="#fff" class="s">1</text>
<rect x="94.9" y="422.4" width="45.4" height="9.1" fill="#17173f" rx="0.5"/>
<text x="117.6" y="428.84" font-size="5.73" text-anchor="middle" fill="#fff" class="s">stationary target</text>
<circle cx="89.8" cy="466.6" r="2.75" fill="#ec1f27"/>
<text x="89.8" y="467.6" font-size="2.9" text-anchor="middle" fill="#fff" class="s">2</text>
<rect x="94.9" y="461.6" width="40.2" height="9.6" fill="#17173f" rx="0.5"/>
<text x="115" y="468.36" font-size="5.93" text-anchor="middle" fill="#fff" class="s">moving target</text>
<polyline fill="none" stroke="#dcdcdc" stroke-width="0.3" points="27.2,224.2 53.2,211 153.2,214.8"/>
<polyline fill="none" stroke="#dcdcdc" stroke-width="0.3" points="27.2,211.2 53.2,198 153.2,201.8"/>
<polyline fill="none" stroke="#dcdcdc" stroke-width="0.3" points="27.2,198.2 53.2,185 153.2,188.8"/>
<polyline fill="none" stroke="#dcdcdc" stroke-width="0.3" points="27.2,185.2 53.2,172 153.2,175.8"/>
<polyline fill="none" stroke="#dcdcdc" stroke-width="0.3" points="27.2,172.2 53.2,159 153.2,162.8"/>
<polyline fill="none" stroke="#dcdcdc" stroke-width="0.3" points="27.2,159.2 53.2,146 153.2,149.8"/>
<polyline fill="none" stroke="#dcdcdc" stroke-width="0.3" points="27.2,146.2 53.2,133 153.2,136.8"/>
<line x1="73.2" y1="211.76" x2="73.2" y2="133.76" stroke="#dcdcdc" stroke-width="0.3"/>
<line x1="73.2" y1="211.76" x2="47.2" y2="224.96" stroke="#dcdcdc" stroke-width="0.3"/>
<line x1="113.2" y1="213.28" x2="113.2" y2="135.28" stroke="#dcdcdc" stroke-width="0.3"/>
<line x1="113.2" y1="213.28" x2="87.2" y2="226.48" stroke="#dcdcdc" stroke-width="0.3"/>
<line x1="153.2" y1="214.8" x2="153.2" y2="136.8" stroke="#dcdcdc" stroke-width="0.3"/>
<line x1="153.2" y1="214.8" x2="127.2" y2="228" stroke="#dcdcdc" stroke-width="0.3"/>
<line x1="27.2" y1="224.2" x2="27.2" y2="146.2" stroke="#dcdcdc" stroke-width="0.3"/>
<line x1="27.2" y1="224.2" x2="127.2" y2="228" stroke="#dcdcdc" stroke-width="0.3"/>
<line x1="36.3" y1="219.58" x2="36.3" y2="141.58" stroke="#dcdcdc" stroke-width="0.3"/>
<line x1="36.3" y1="219.58" x2="136.3" y2="223.38" stroke="#dcdcdc" stroke-width="0.3"/>
<line x1="46.7" y1="214.3" x2="46.7" y2="136.3" stroke="#dcdcdc" stroke-width="0.3"/>
<line x1="46.7" y1="214.3" x2="146.7" y2="218.1" stroke="#dcdcdc" stroke-width="0.3"/>
<line x1="53.2" y1="211" x2="53.2" y2="133" stroke="#dcdcdc" stroke-width="0.3"/>
<line x1="53.2" y1="211" x2="153.2" y2="214.8" stroke="#dcdcdc" stroke-width="0.3"/>
<linearGradient id="gc" gradientUnits="userSpaceOnUse" x1="0" y1="170" x2="0" y2="216"><stop offset="0" stop-color="#8fdca0"/><stop offset="0.13" stop-color="#40ccb6"/><stop offset="0.35" stop-color="#28c2c4"/><stop offset="0.55" stop-color="#38b6d8"/><stop offset="1" stop-color="#5aa6e2"/></linearGradient>
<clipPath id="cc"><polygon points="27.2,183.11 27.75,181.39 28.3,182.71 28.85,181.94 29.4,179.04 29.95,181.35 30.5,179.89 31.05,180.93 31.6,180.14 32.15,179.27 32.7,177.91 33.25,177.18 33.8,176.48 34.35,178.99 34.9,177.23 35.45,178 36,177.02 36.55,175.03 37.1,176.22 37.65,174.43 38.2,175.62 38.75,176.08 39.3,174.48 39.86,174.58 40.41,176.53 40.96,176.85 41.51,174.41 42.06,172.77 42.61,175.77 43.16,176.21 43.71,174.35 44.26,172.9 44.81,172.61 45.36,174.35 45.91,174.06 46.46,174.15 47.01,174.93 47.56,173.83 48.11,174.11 48.66,173.15 49.21,172.97 49.76,173.93 50.31,174.53 50.86,170.81 51.41,172.66 51.96,173.61 52.51,173.54 53.06,173.98 53.61,173.29 54.16,173.38 54.71,171.5 55.26,172.88 55.81,170.45 56.36,171.47 56.91,173.03 57.46,173.11 58.01,173.12 58.56,171.47 59.11,173.21 59.66,172.87 60.21,172.38 60.76,173.14 61.31,170.19 61.86,169.78 62.41,170.91 62.96,171.96 63.51,172.93 64.06,172.76 64.61,170.01 65.17,170.04 65.72,173.26 66.27,172.69 66.82,172.31 67.37,172.55 67.92,172.05 68.47,172.94 69.02,172.99 69.57,170.49 70.12,171.38 70.67,172.74 71.22,172.26 71.77,173.24 72.32,173.11 72.87,170.27 73.42,172.66 73.97,171.37 74.52,173.02 75.07,171.8 75.62,173.25 76.17,171.61 76.72,170.64 77.27,172.55 77.82,172.4 78.37,172.96 78.92,173.32 79.47,170.26 80.02,170.17 80.57,172.29 81.12,171.44 81.67,171.42 82.22,173.34 82.77,173.28 83.32,173.38 83.87,173.23 84.42,173.36 84.97,170.62 85.52,170.83 86.07,172.21 86.62,171.11 87.17,172.91 87.72,173.16 88.27,171.8 88.82,172.8 89.37,172.64 89.92,169.92 90.48,173.41 91.03,171.59 91.58,171.75 92.13,173.57 92.68,172.34 93.23,173.44 93.78,172.08 94.33,171.6 94.88,171.55 95.43,172.14 95.98,173.77 96.53,173.57 97.08,171.26 97.63,172.64 98.18,170.97 98.73,172.67 99.28,172.99 99.83,172.76 100.38,171.65 100.93,170.95 101.48,173.5 102.03,170.95 102.58,170.93 103.13,171.68 103.68,171.14 104.23,172.42 104.78,173.38 105.33,173.74 105.88,173.22 106.43,173.61 106.98,170.94 107.53,170.64 108.08,171.68 108.63,172.21 109.18,171.73 109.73,172.78 110.28,173.49 110.83,172.69 111.38,172.42 111.93,172.32 112.48,174.13 113.03,172.64 113.58,173.24 114.13,174.31 114.68,172.94 115.23,173.95 115.79,174.41 116.34,171.93 116.89,173.58 117.44,173.77 117.99,174.05 118.54,171.97 119.09,174.3 119.64,171.81 120.19,174.43 120.74,173.25 121.29,174.23 121.84,171.97 122.39,173.87 122.94,172.87 123.49,174.18 124.04,173.06 124.59,172.25 125.14,173.44 125.69,173.44 126.24,172.94 126.79,171.28 127.34,172.25 127.89,174.17 128.44,173.51 128.99,171.88 129.54,171.97 130.09,172.76 130.64,172.34 131.19,174.1 131.74,175.06 132.29,174.94 132.84,173.12 133.39,173.42 133.94,172.93 134.49,172.21 135.04,174.72 135.59,175.21 136.14,173.02 136.69,175.39 137.24,174.82 137.79,175.67 138.34,175.79 138.89,174.98 139.44,175.05 139.99,172.37 140.54,174.89 141.1,175.41 141.65,173.86 142.2,175.09 142.75,175.86 143.3,174.5 143.85,174.3 144.4,176.44 144.95,176.27 145.5,174.75 146.05,173.24 146.6,173.79 147.15,176.79 147.7,177.5 148.25,177.68 148.8,175.95 149.35,175.87 149.9,176.97 150.45,177.91 151,178.09 151.55,177.44 152.1,179.3 152.65,178.35 153.2,178.53 153.2,193.65 152.65,185.86 152.1,189.58 151.55,193.81 151,186.85 150.45,188.21 149.9,204.16 149.35,198.54 148.8,204.28 148.25,189.67 147.7,189.92 147.15,195.93 146.6,205.17 146.05,193.07 145.5,204.3 144.95,187.46 144.4,187.74 143.85,208.78 143.3,190.13 142.75,191.24 142.2,207.03 141.65,191.64 141.1,188.97 140.54,190.77 139.99,189.98 139.44,192.05 138.89,199.28 138.34,190.83 137.79,191.58 137.24,190.65 136.69,191.5 136.14,192.07 135.59,191.39 135.04,197.77 134.49,202.43 133.94,194.83 133.39,194.49 132.84,198.44 132.29,193.88 131.74,192.71 131.19,205.32 130.64,213.09 130.09,204.87 129.54,202.6 128.99,203.42 128.44,212.59 127.89,195.17 127.34,201.9 126.79,211.16 126.24,199.41 125.69,195.72 125.14,198.73 124.59,204.11 124.04,204.8 123.49,210.65 122.94,216.02 122.39,201.48 121.84,212.98 121.29,206.58 120.74,200.83 120.19,197.5 119.64,206.82 119.09,199.13 118.54,205.07 117.99,194.58 117.44,209 116.89,201.5 116.34,197.08 115.79,199.37 115.23,198.79 114.68,205.76 114.13,205.97 113.58,196.07 113.03,201.35 112.48,197.61 111.93,196.48 111.38,196.62 110.83,196.01 110.28,205.71 109.73,195.27 109.18,214.78 108.63,207.55 108.08,196.93 107.53,198.13 106.98,211.01 106.43,202.59 105.88,199.53 105.33,202.54 104.78,198.28 104.23,202.53 103.68,195.93 103.13,193.94 102.58,196.29 102.03,210.86 101.48,195.84 100.93,194.94 100.38,204.77 99.83,194.9 99.28,206.49 98.73,205.79 98.18,208.43 97.63,201.35 97.08,196.13 96.53,196.36 95.98,198.42 95.43,194.97 94.88,198.38 94.33,212.86 93.78,195.42 93.23,194.81 92.68,198.43 92.13,206.49 91.58,210 91.03,199.18 90.48,204.22 89.92,197.86 89.37,194.31 88.82,196.56 88.27,205.17 87.72,193.99 87.17,200.89 86.62,211.08 86.07,203.11 85.52,194.71 84.97,213.06 84.42,208.86 83.87,194.8 83.32,195 82.77,204.71 82.22,199.15 81.67,204.62 81.12,210.68 80.57,194.77 80.02,205.69 79.47,211.59 78.92,196.71 78.37,199.48 77.82,202.95 77.27,198.61 76.72,200.83 76.17,205.51 75.62,193.69 75.07,203.28 74.52,194.35 73.97,199.6 73.42,194.7 72.87,193.49 72.32,194.61 71.77,192.44 71.22,198.05 70.67,194.52 70.12,207.3 69.57,205.7 69.02,206.82 68.47,199.26 67.92,205.01 67.37,195.04 66.82,211.66 66.27,201.63 65.72,203.21 65.17,209.84 64.61,203.43 64.06,205.03 63.51,193.2 62.96,193.87 62.41,207.46 61.86,209.94 61.31,213.05 60.76,193.9 60.21,196.76 59.66,194.55 59.11,194.82 58.56,205.33 58.01,194.63 57.46,206.5 56.91,192.79 56.36,208.4 55.81,192.44 55.26,206.3 54.71,192.04 54.16,192.67 53.61,193.79 53.06,198.89 52.51,195.32 51.96,194.72 51.41,193.47 50.86,192.95 50.31,192.5 49.76,202.36 49.21,196.29 48.66,198.44 48.11,196.98 47.56,196.18 47.01,194.45 46.46,195.57 45.91,200.12 45.36,199.85 44.81,193.96 44.26,194.34 43.71,190.72 43.16,191.83 42.61,191.75 42.06,197.31 41.51,194.14 40.96,197.36 40.41,203.96 39.86,193.3 39.3,210.68 38.75,191.37 38.2,192.6 37.65,208.07 37.1,192.3 36.55,207.12 36,208.2 35.45,193.19 34.9,192.35 34.35,210.07 33.8,189.97 33.25,195.33 32.7,207.93 32.15,201.73 31.6,191.51 31.05,202.19 30.5,201.8 29.95,199.11 29.4,194.87 28.85,211.1 28.3,203.95 27.75,196.69 27.2,195.43"/></clipPath>
<g clip-path="url(#cc)"><rect x="26.2" y="168.78" width="128" height="48.24" fill="url(#gc)"/><rect x="26.2" y="168.78" width="128" height="48.24" fill="#fff" filter="url(#ns)"/></g>
<polygon fill="url(#pk)" filter="url(#soft2)" points="53.49,175.5 54.62,173.94 55.55,172.37 56.32,170.81 56.94,169.24 57.42,167.68 57.8,166.11 58.07,164.55 58.27,162.99 58.4,161.42 58.48,159.86 58.52,158.29 58.54,156.73 58.55,155.16 58.55,153.6 59.85,153.6 59.85,155.16 59.86,156.73 59.88,158.29 59.92,159.86 60,161.42 60.13,162.99 60.33,164.55 60.6,166.11 60.98,167.68 61.46,169.24 62.08,170.81 62.85,172.37 63.78,173.94 64.91,175.5"/>
<polygon fill="url(#pk)" filter="url(#soft2)" points="94.69,176 95.82,174.3 96.75,172.6 97.52,170.9 98.14,169.2 98.62,167.5 99,165.8 99.27,164.1 99.47,162.4 99.6,160.7 99.68,159 99.72,157.3 99.74,155.6 99.75,153.9 99.75,152.2 101.05,152.2 101.05,153.9 101.06,155.6 101.08,157.3 101.12,159 101.2,160.7 101.33,162.4 101.53,164.1 101.8,165.8 102.18,167.5 102.66,169.2 103.28,170.9 104.05,172.6 104.98,174.3 106.11,176"/>
<polygon fill="url(#pk)" filter="url(#soft2)" points="103.89,176.5 105.02,174.81 105.95,173.11 106.72,171.42 107.34,169.73 107.82,168.04 108.2,166.34 108.47,164.65 108.67,162.96 108.8,161.26 108.88,159.57 108.92,157.88 108.94,156.19 108.95,154.49 108.95,152.8 110.25,152.8 110.25,154.49 110.26,156.19 110.28,157.88 110.32,159.57 110.4,161.26 110.53,162.96 110.73,164.65 111,166.34 111.38,168.04 111.86,169.73 112.48,171.42 113.25,173.11 114.18,174.81 115.31,176.5"/>
<polygon fill="url(#pk)" filter="url(#soft2)" points="118.29,177 119.56,175.43 120.69,173.86 121.67,172.29 122.52,170.71 123.25,169.14 123.86,167.57 124.35,166 124.75,164.43 125.05,162.86 125.27,161.29 125.42,159.71 125.5,158.14 125.54,156.57 125.55,155 126.85,155 126.86,156.57 126.9,158.14 126.98,159.71 127.13,161.29 127.35,162.86 127.65,164.43 128.05,166 128.54,167.57 129.15,169.14 129.88,170.71 130.73,172.29 131.71,173.86 132.84,175.43 134.11,177"/>
<polygon fill="#52cbc6" filter="url(#soft2)" points="127.2,160 128.6,165 130.6,170 133.5,175 136,178 124,178 125.6,172 126.4,166"/>
<line x1="27.2" y1="224.2" x2="27.2" y2="146.2" stroke="#525252" stroke-width="0.5"/>
<line x1="27.2" y1="224.2" x2="127.2" y2="228" stroke="#525252" stroke-width="0.5"/>
<line x1="127.2" y1="228" x2="153.2" y2="214.8" stroke="#525252" stroke-width="0.5"/>
<line x1="27.2" y1="224.2" x2="26" y2="224.5" stroke="#707070" stroke-width="0.35"/>
<text x="23" y="225.59" font-size="3.85" text-anchor="end" fill="#4c4c4c" class="s">−20</text>
<line x1="27.2" y1="211.2" x2="26" y2="211.5" stroke="#707070" stroke-width="0.35"/>
<text x="23" y="212.59" font-size="3.85" text-anchor="end" fill="#4c4c4c" class="s">0</text>
<line x1="27.2" y1="198.2" x2="26" y2="198.5" stroke="#707070" stroke-width="0.35"/>
<text x="23" y="199.59" font-size="3.85" text-anchor="end" fill="#4c4c4c" class="s">20</text>
<line x1="27.2" y1="185.2" x2="26" y2="185.5" stroke="#707070" stroke-width="0.35"/>
<text x="23" y="186.59" font-size="3.85" text-anchor="end" fill="#4c4c4c" class="s">40</text>
<line x1="27.2" y1="172.2" x2="26" y2="172.5" stroke="#707070" stroke-width="0.35"/>
<text x="23" y="173.59" font-size="3.85" text-anchor="end" fill="#4c4c4c" class="s">60</text>
<line x1="27.2" y1="159.2" x2="26" y2="159.5" stroke="#707070" stroke-width="0.35"/>
<text x="23" y="160.59" font-size="3.85" text-anchor="end" fill="#4c4c4c" class="s">80</text>
<line x1="27.2" y1="146.2" x2="26" y2="146.5" stroke="#707070" stroke-width="0.35"/>
<text x="23" y="147.59" font-size="3.85" text-anchor="end" fill="#4c4c4c" class="s">100</text>
<text x="89.5" y="133.3" font-size="4.18" text-anchor="middle" fill="#222" class="s">2DFFT Result in Simulation</text>
<text x="13.4" y="186" font-size="4.08" text-anchor="middle" fill="#333" class="s" transform="rotate(-90 13.4 186)">|dB|</text>
<text x="44" y="232.8" font-size="3.85" text-anchor="middle" fill="#4c4c4c" class="s">39.09</text>
<text x="82.7" y="234.1" font-size="3.85" text-anchor="middle" fill="#4c4c4c" class="s">19.54</text>
<text x="65" y="237.8" font-size="4.3" text-anchor="middle" fill="#333" class="s">Range Dimension(m)</text>
<text x="152.4" y="225.4" font-size="3.85" text-anchor="middle" fill="#4c4c4c" class="s">21.41</text>
<text x="141.5" y="230.9" font-size="3.85" text-anchor="middle" fill="#4c4c4c" class="s">−8.32</text>
<text x="131.8" y="234.5" font-size="3.85" text-anchor="middle" fill="#4c4c4c" class="s">0−34.05</text>
<text x="141" y="238.2" font-size="4.3" text-anchor="middle" fill="#333" class="s">Doppler Dimension(m/s)</text>
<line x1="127.72" y1="227.74" x2="129.32" y2="228.74" stroke="#707070" stroke-width="0.35"/>
<line x1="140.2" y1="221.4" x2="141.8" y2="222.4" stroke="#707070" stroke-width="0.35"/>
<line x1="151.9" y1="215.46" x2="153.5" y2="216.46" stroke="#707070" stroke-width="0.35"/>
<line x1="48.2" y1="225" x2="47.9" y2="226.6" stroke="#525252" stroke-width="0.4"/>
<line x1="88.2" y1="226.52" x2="87.9" y2="228.12" stroke="#525252" stroke-width="0.4"/>
<text x="87.2" y="251" font-size="9.7" text-anchor="middle" fill="#111" class="b">(c)</text>
<circle cx="41.2" cy="147.4" r="2.75" fill="#ec1f27"/>
<text x="41.2" y="148.4" font-size="2.9" text-anchor="middle" fill="#fff" class="s">1</text>
<rect x="46" y="142.9" width="41.6" height="8.5" fill="#484848" rx="0.5"/>
<text x="66.8" y="148.87" font-size="5.2" text-anchor="middle" fill="#fff" class="s">stationary target</text>
<circle cx="94.2" cy="145.8" r="2.75" fill="#ec1f27"/>
<text x="94.2" y="146.8" font-size="2.9" text-anchor="middle" fill="#fff" class="s">2</text>
<rect x="98.9" y="141.8" width="36.9" height="8" fill="#484848" rx="0.5"/>
<text x="117.35" y="147.58" font-size="5.38" text-anchor="middle" fill="#fff" class="s">moving target</text>
<circle cx="129.4" cy="155.4" r="2.75" fill="#ec1f27"/>
<text x="129.4" y="156.4" font-size="2.9" text-anchor="middle" fill="#fff" class="s">4</text>
<rect x="134.6" y="151.8" width="33.2" height="8" fill="#484848" rx="0.5"/>
<text x="151.2" y="157.43" font-size="4.95" text-anchor="middle" fill="#fff" class="s">interference2</text>
<circle cx="109" cy="179.6" r="2.75" fill="#ec1f27"/>
<text x="109" y="180.6" font-size="2.9" text-anchor="middle" fill="#fff" class="s">3</text>
<rect x="114.6" y="175.2" width="35.1" height="8.7" fill="#1d4a4d" rx="0.5"/>
<text x="132.15" y="181.29" font-size="5.28" text-anchor="middle" fill="#fff" class="s">interference1</text>
<polyline fill="none" stroke="#dcdcdc" stroke-width="0.3" points="207,497.2 266.5,474 339.5,494.6"/>
<polyline fill="none" stroke="#dcdcdc" stroke-width="0.3" points="207,485.68 266.5,462.48 339.5,483.08"/>
<polyline fill="none" stroke="#dcdcdc" stroke-width="0.3" points="207,474.16 266.5,450.96 339.5,471.56"/>
<polyline fill="none" stroke="#dcdcdc" stroke-width="0.3" points="207,462.64 266.5,439.44 339.5,460.04"/>
<polyline fill="none" stroke="#dcdcdc" stroke-width="0.3" points="207,451.12 266.5,427.92 339.5,448.52"/>
<polyline fill="none" stroke="#dcdcdc" stroke-width="0.3" points="207,439.6 266.5,416.4 339.5,437"/>
<line x1="284.75" y1="479.15" x2="284.75" y2="421.55" stroke="#dcdcdc" stroke-width="0.3"/>
<line x1="284.75" y1="479.15" x2="225.25" y2="502.35" stroke="#dcdcdc" stroke-width="0.3"/>
<line x1="311.76" y1="486.77" x2="311.76" y2="429.17" stroke="#dcdcdc" stroke-width="0.3"/>
<line x1="311.76" y1="486.77" x2="252.26" y2="509.97" stroke="#dcdcdc" stroke-width="0.3"/>
<line x1="339.5" y1="494.6" x2="339.5" y2="437" stroke="#dcdcdc" stroke-width="0.3"/>
<line x1="339.5" y1="494.6" x2="280" y2="517.8" stroke="#dcdcdc" stroke-width="0.3"/>
<line x1="207" y1="497.2" x2="207" y2="439.6" stroke="#dcdcdc" stroke-width="0.3"/>
<line x1="207" y1="497.2" x2="280" y2="517.8" stroke="#dcdcdc" stroke-width="0.3"/>
<line x1="230.8" y1="487.92" x2="230.8" y2="430.32" stroke="#dcdcdc" stroke-width="0.3"/>
<line x1="230.8" y1="487.92" x2="303.8" y2="508.52" stroke="#dcdcdc" stroke-width="0.3"/>
<line x1="254.6" y1="478.64" x2="254.6" y2="421.04" stroke="#dcdcdc" stroke-width="0.3"/>
<line x1="254.6" y1="478.64" x2="327.6" y2="499.24" stroke="#dcdcdc" stroke-width="0.3"/>
<line x1="266.5" y1="474" x2="266.5" y2="416.4" stroke="#dcdcdc" stroke-width="0.3"/>
<line x1="266.5" y1="474" x2="339.5" y2="494.6" stroke="#dcdcdc" stroke-width="0.3"/>
<linearGradient id="gh" gradientUnits="userSpaceOnUse" x1="0" y1="438" x2="0" y2="498"><stop offset="0" stop-color="#74d69a"/><stop offset="0.45" stop-color="#48c8a4"/><stop offset="0.75" stop-color="#3cbcb8"/><stop offset="1" stop-color="#48a8d6"/></linearGradient>
<clipPath id="ch"><polygon points="207,462.15 207.55,461.83 208.1,462.67 208.66,459.42 209.21,462.38 209.76,462.2 210.31,459.54 210.86,461.71 211.42,461.12 211.97,459.8 212.52,459.27 213.07,458.21 213.62,455.66 214.18,457.43 214.73,459.27 215.28,458.57 215.83,454.94 216.39,458.77 216.94,454.26 217.49,456.37 218.04,458.31 218.59,455.07 219.15,457.77 219.7,457.34 220.25,457.06 220.8,454.81 221.35,456.55 221.91,453.36 222.46,456.12 223.01,453.93 223.56,455.67 224.11,455.04 224.67,455.53 225.22,453.29 225.77,450.7 226.32,451.15 226.88,450.63 227.43,454.19 227.98,453.95 228.53,451.95 229.08,453.84 229.64,450.9 230.19,451.33 230.74,450.36 231.29,451.09 231.84,452.14 232.4,452.53 232.95,452.27 233.5,450.14 234.05,447.89 234.6,449 235.16,451.41 235.71,448.5 236.26,448.67 236.81,450 237.36,448.73 237.92,447.39 238.47,445.95 239.02,445.83 239.57,446.38 240.12,447.19 240.68,447.06 241.23,444.26 241.78,447.73 242.33,447.27 242.89,445.32 243.44,446.64 243.99,446.33 244.54,447.14 245.09,444.88 245.65,443.14 246.2,443.02 246.75,446.44 247.3,442.42 247.85,444.33 248.41,444.57 248.96,443.13 249.51,445.42 250.06,445.07 250.61,443.7 251.17,440.37 251.72,444.79 252.27,441.83 252.82,441.07 253.38,442.79 253.93,443.45 254.48,441.42 255.03,441.05 255.58,440.73 256.14,442.89 256.69,440.24 257.24,442.02 257.79,440.55 258.34,439.29 258.9,438.16 259.45,440.95 260,441.15 260.55,438.67 261.1,439.44 261.66,438.22 262.21,441.15 262.76,436.78 263.31,440.48 263.86,440.22 264.42,439.12 264.97,440.8 265.52,437.31 266.07,437.24 266.62,438.74 267.18,437.8 267.73,436.08 268.28,438.81 268.83,438.23 269.39,438.72 269.94,436.99 270.49,436.99 271.04,438.77 271.59,439.18 272.15,436.25 272.7,437.49 273.25,438.24 273.8,439.77 274.35,440.39 274.91,439.76 275.46,439.6 276.01,438.88 276.56,437.92 277.11,440.74 277.67,440.31 278.22,438.36 278.77,440.78 279.32,440.07 279.88,439.66 280.43,439.24 280.98,438 281.53,441.42 282.08,437.99 282.64,438.02 283.19,438.45 283.74,439.72 284.29,439.2 284.84,442.78 285.4,443.12 285.95,439.17 286.5,441.87 287.05,441.03 287.6,443.7 288.16,442.35 288.71,443.87 289.26,439.64 289.81,444.48 290.36,441.59 290.92,443.23 291.47,445.07 292.02,444.93 292.57,444.29 293.12,443.95 293.68,442.41 294.23,443.67 294.78,444.52 295.33,445.76 295.89,443.27 296.44,442.63 296.99,443.7 297.54,444.16 298.09,445.76 298.65,445.02 299.2,443.16 299.75,445.25 300.3,446.85 300.85,445.39 301.41,448.29 301.96,447.96 302.51,448.35 303.06,448.38 303.61,447.48 304.17,444.54 304.72,449.42 305.27,449.66 305.82,448.45 306.38,447.91 306.93,449.09 307.48,449.53 308.03,448.79 308.58,450.21 309.14,451.06 309.69,450.22 310.24,451.45 310.79,451.61 311.34,450.41 311.9,450.38 312.45,450.86 313,450.34 313.55,451.31 314.1,451.15 314.66,450.56 315.21,451.25 315.76,451.73 316.31,450.74 316.86,449.87 317.42,453.14 317.97,452.34 318.52,451.42 319.07,450.02 319.62,454.84 320.18,453.84 320.73,453.46 321.28,452.89 321.83,454.67 322.39,454.99 322.94,455.98 323.49,454 324.04,455.23 324.59,455.68 325.15,456.05 325.7,452.84 326.25,457.13 326.8,457.35 327.35,455.02 327.91,457.76 328.46,457.95 329.01,455.56 329.56,457.51 330.11,458.48 330.67,454.64 331.22,457.75 331.77,458.46 332.32,455.41 332.88,458.66 333.43,458.77 333.98,456.68 334.53,458.3 335.08,456.5 335.64,458.95 336.19,456.27 336.74,460.95 337.29,461.12 337.84,457.36 338.4,461.39 338.95,461.29 339.5,460.31 339.5,471.54 338.95,465.52 338.4,472.09 337.84,465.14 337.29,465.57 336.74,469.31 336.19,471.25 335.64,469.06 335.08,465.17 334.53,466.69 333.98,470.19 333.43,466.6 332.88,467.39 332.32,466.68 331.77,469.41 331.22,474.76 330.67,480.14 330.11,473.66 329.56,473.68 329.01,467.35 328.46,469.11 327.91,468.62 327.35,469.55 326.8,471.87 326.25,477.58 325.7,470.15 325.15,472.8 324.59,475.32 324.04,470.4 323.49,476.11 322.94,470.23 322.39,477.47 321.83,471.53 321.28,473.73 320.73,469.03 320.18,473.92 319.62,469.84 319.07,482.98 318.52,470.48 317.97,475.53 317.42,472.38 316.86,479.74 316.31,471.19 315.76,486.9 315.21,474.64 314.66,473.95 314.1,472.43 313.55,471.91 313,473.28 312.45,487.2 311.9,485.91 311.34,486.01 310.79,484.67 310.24,488.66 309.69,485.66 309.14,475.16 308.58,473.89 308.03,476.05 307.48,476.12 306.93,478.6 306.38,476.49 305.82,475.79 305.27,486.78 304.72,480.91 304.17,481.94 303.61,489.53 303.06,487.87 302.51,477.28 301.96,477.61 301.41,482.4 300.85,486.12 300.3,491.99 299.75,481.76 299.2,483.14 298.65,482.32 298.09,478.1 297.54,478.31 296.99,486.21 296.44,490 295.89,487.79 295.33,491.42 294.78,493.92 294.23,481.91 293.68,487.28 293.12,481.31 292.57,480.02 292.02,483.62 291.47,487.99 290.92,483.42 290.36,482.35 289.81,493.96 289.26,492.52 288.71,483.2 288.16,485.13 287.6,482.53 287.05,481.84 286.5,490.23 285.95,495.06 285.4,484.03 284.84,485.63 284.29,486.29 283.74,483.47 283.19,483.54 282.64,485.93 282.08,484.99 281.53,492.47 280.98,490.3 280.43,490.15 279.88,484.69 279.32,486.34 278.77,485.37 278.22,484.96 277.67,488.36 277.11,490.02 276.56,483.66 276.01,495.08 275.46,484.39 274.91,493.79 274.35,485.47 273.8,497.47 273.25,483.75 272.7,487.21 272.15,486.17 271.59,486.46 271.04,483.54 270.49,496.03 269.94,493.11 269.39,483.36 268.83,486.58 268.28,483.82 267.73,481.66 267.18,494.47 266.62,489.54 266.07,481.18 265.52,481.61 264.97,489.15 264.42,489.11 263.86,481.28 263.31,493.4 262.76,485.19 262.21,493.17 261.66,486.44 261.1,481.64 260.55,492.76 260,485.22 259.45,486.1 258.9,485.89 258.34,490.18 257.79,487.02 257.24,485.95 256.69,479.35 256.14,479.45 255.58,479.67 255.03,488.96 254.48,481.62 253.93,477.97 253.38,479.62 252.82,477.73 252.27,481.86 251.72,487.42 251.17,479.37 250.61,479.85 250.06,480.02 249.51,479.39 248.96,489.44 248.41,487.58 247.85,477.33 247.3,487.25 246.75,479.72 246.2,478.27 245.65,481.87 245.09,476.01 244.54,475.82 243.99,481.79 243.44,476.99 242.89,476.12 242.33,484 241.78,482.65 241.23,486.39 240.68,475.63 240.12,476.83 239.57,485.1 239.02,484.76 238.47,476.35 237.92,481.44 237.36,482.25 236.81,487.07 236.26,477.2 235.71,485.48 235.16,474.72 234.6,476.71 234.05,487.16 233.5,473.02 232.95,473.01 232.4,473.47 231.84,483.51 231.29,482.59 230.74,471.81 230.19,472.33 229.64,473.58 229.08,484.18 228.53,472.8 227.98,485.12 227.43,479.67 226.88,479.62 226.32,470.71 225.77,473.97 225.22,472.32 224.67,474.26 224.11,470.5 223.56,471.87 223.01,471.72 222.46,472.81 221.91,472.01 221.35,471.86 220.8,469.75 220.25,475.61 219.7,473.11 219.15,470.18 218.59,468.74 218.04,471.4 217.49,476.28 216.94,469.45 216.39,479.9 215.83,476.87 215.28,477.67 214.73,468.96 214.18,468.43 213.62,482.69 213.07,469.6 212.52,472.71 211.97,470.53 211.42,466.76 210.86,469.38 210.31,470.84 209.76,481.57 209.21,475.92 208.66,466.25 208.1,469.86 207.55,469.56 207,471"/></clipPath>
<g clip-path="url(#ch)"><rect x="206" y="435.08" width="134.5" height="63.4" fill="url(#gh)"/><rect x="206" y="435.08" width="134.5" height="63.4" fill="#fff" filter="url(#nh)"/></g>
<rect x="252.7" y="433.4" width="1.05" height="17" fill="url(#pk2)" filter="url(#soft2)"/>
<rect x="289.75" y="435.6" width="1.05" height="22.5" fill="url(#pk2)" filter="url(#soft2)"/>
<line x1="207" y1="497.2" x2="207" y2="439.6" stroke="#525252" stroke-width="0.5"/>
<line x1="207" y1="497.2" x2="280" y2="517.8" stroke="#525252" stroke-width="0.5"/>
<line x1="280" y1="517.8" x2="339.5" y2="494.6" stroke="#525252" stroke-width="0.5"/>
<line x1="207" y1="497.2" x2="205.8" y2="497.5" stroke="#707070" stroke-width="0.35"/>
<text x="204.6" y="498.62" font-size="3.95" text-anchor="end" fill="#4c4c4c" class="s">−20</text>
<line x1="207" y1="485.68" x2="205.8" y2="485.98" stroke="#707070" stroke-width="0.35"/>
<text x="204.6" y="487.1" font-size="3.95" text-anchor="end" fill="#4c4c4c" class="s">0</text>
<line x1="207" y1="474.16" x2="205.8" y2="474.46" stroke="#707070" stroke-width="0.35"/>
<text x="204.6" y="475.58" font-size="3.95" text-anchor="end" fill="#4c4c4c" class="s">20</text>
<line x1="207" y1="462.64" x2="205.8" y2="462.94" stroke="#707070" stroke-width="0.35"/>
<text x="204.6" y="464.06" font-size="3.95" text-anchor="end" fill="#4c4c4c" class="s">40</text>
<line x1="207" y1="451.12" x2="205.8" y2="451.42" stroke="#707070" stroke-width="0.35"/>
<text x="204.6" y="452.54" font-size="3.95" text-anchor="end" fill="#4c4c4c" class="s">60</text>
<line x1="207" y1="439.6" x2="205.8" y2="439.9" stroke="#707070" stroke-width="0.35"/>
<text x="204.6" y="441.02" font-size="3.95" text-anchor="end" fill="#4c4c4c" class="s">80</text>
<text x="273.5" y="413.4" font-size="4.4" text-anchor="middle" fill="#222" class="s">2DFFT Result by using TIR in Simulation</text>
<text x="196.6" y="468.5" font-size="4.18" text-anchor="middle" fill="#333" class="s" transform="rotate(-90 196.6 468.5)">|dB|</text>
<text x="215" y="508.1" font-size="3.95" text-anchor="middle" fill="#4c4c4c" class="s">39.09</text>
<text x="242.8" y="515.9" font-size="3.95" text-anchor="middle" fill="#4c4c4c" class="s">19.54</text>
<text x="223.4" y="525" font-size="4.4" text-anchor="middle" fill="#333" class="s">Range Dimension(m)</text>
<text x="334.3" y="504.4" font-size="3.95" text-anchor="middle" fill="#4c4c4c" class="s">21.41</text>
<text x="309.7" y="514.1" font-size="3.95" text-anchor="middle" fill="#4c4c4c" class="s">−8.32</text>
<text x="274" y="523.1" font-size="3.95" text-anchor="middle" fill="#4c4c4c" class="s">0</text>
<text x="287" y="523.1" font-size="3.95" text-anchor="middle" fill="#4c4c4c" class="s">−38.05</text>
<text x="308.4" y="528.9" font-size="4.4" text-anchor="middle" fill="#333" class="s">Doppler Dimension(m/s)</text>
<line x1="281.79" y1="517.1" x2="283.19" y2="518.3" stroke="#707070" stroke-width="0.35"/>
<line x1="309.75" y1="506.2" x2="311.15" y2="507.4" stroke="#707070" stroke-width="0.35"/>
<line x1="336.52" y1="495.76" x2="337.92" y2="496.96" stroke="#707070" stroke-width="0.35"/>
<line x1="221.6" y1="501.32" x2="220.8" y2="502.82" stroke="#707070" stroke-width="0.35"/>
<line x1="250.8" y1="509.56" x2="250" y2="511.06" stroke="#707070" stroke-width="0.35"/>
<text x="270.5" y="546.2" font-size="9.7" text-anchor="middle" fill="#111" class="b">(h)</text>
<circle cx="221.8" cy="426.4" r="2.75" fill="#ec1f27"/>
<text x="221.8" y="427.4" font-size="2.9" text-anchor="middle" fill="#fff" class="s">1</text>
<rect x="227.3" y="422" width="43.1" height="9" fill="#484848" rx="0.5"/>
<text x="248.85" y="428.29" font-size="5.41" text-anchor="middle" fill="#fff" class="s">stationary target</text>
<circle cx="281.3" cy="429" r="2.75" fill="#ec1f27"/>
<text x="281.3" y="430" font-size="2.9" text-anchor="middle" fill="#fff" class="s">2</text>
<rect x="287" y="424.6" width="37.7" height="9" fill="#484848" rx="0.5"/>
<text x="305.85" y="430.92" font-size="5.51" text-anchor="middle" fill="#fff" class="s">moving target</text>
</svg>
</body></html>
